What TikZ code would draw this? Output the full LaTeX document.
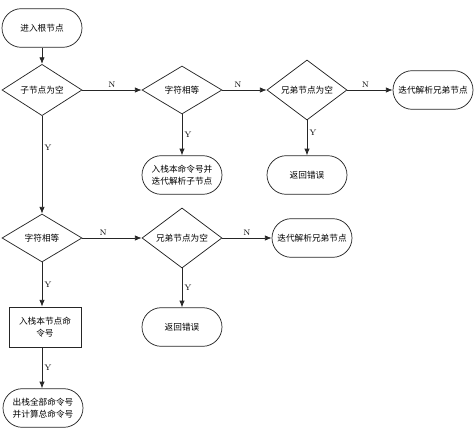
\documentclass[tikz,border=0pt]{standalone}
\usepackage{fontspec}
\newfontfamily\cjk{Noto Sans CJK SC}
\usepackage{tikz}
\usetikzlibrary{shapes.geometric, arrows.meta, positioning}

\begin{document}
\begin{tikzpicture}[x=0.75pt, y=-0.75pt, line width=0.55pt, draw=black!85]
            % Define block styles
            \tikzstyle{term} = [draw, rectangle, rounded corners=14.5pt, minimum height=29pt, minimum width=60pt, inner sep=1pt, align=center, font=\cjk\fontsize{6.5}{9}\selectfont]
            \tikzstyle{decide} = [draw, diamond, minimum width=60pt, minimum height=36pt, inner sep=0pt, font=\cjk\fontsize{6.5}{8}\selectfont]
            \tikzstyle{proc} = [draw, rectangle, minimum height=30pt, minimum width=54pt, inner sep=1pt, align=center, font=\cjk\fontsize{6.5}{9}\selectfont]
            \tikzstyle{flow} = [-{Latex[length=5pt, width=4pt]}]
            \tikzstyle{lbl} = [font=\fontsize{6}{7}\selectfont, inner sep=1.5pt]

            \useasboundingbox (0,0) rectangle (474,432);

            % Nodes
            \node[term] at (42,28) (start) {进入根节点};
            \node[decide] at (42,90) (empty1) {子节点为空};
            \node[decide] at (182,90) (eq1) {字符相等};
            \node[decide] at (307,90) (sib1) {兄弟节点为空};
            \node[term] at (433,90) (itersib1) {迭代解析兄弟节点};
            \node[term] at (182,175) (push1) {入栈本命令号并\\迭代解析子节点};
            \node[term] at (307,175) (err1) {返回错误};

            \node[decide] at (42,238) (eq2) {字符相等};
            \node[decide] at (182,238) (sib2) {兄弟节点为空};
            \node[term] at (312,238) (itersib2) {迭代解析兄弟节点};
            \node[term] at (182,327) (err2) {返回错误};
            \node[proc] at (45,327) (pushnode) {入栈本节点命\\令号};
            \node[term] at (43,408) (popall) {出栈全部命令号\\并计算总命令号};

            % Connectors
            \draw[flow] (start.south) -- (empty1.north);
            \draw[flow] (empty1.east) -- node[lbl, above] {N} (eq1.west);
            \draw[flow] (eq1.east) -- node[lbl, above, pos=0.35] {N} (sib1.west);
            \draw[flow] (sib1.east) -- node[lbl, above, pos=0.4] {N} (itersib1.west);
            \draw[flow] (eq1.south) -- node[lbl, right] {Y} (push1.north);
            \draw[flow] (sib1.south) -- node[lbl, right, pos=0.35] {Y} (err1.north);

            \draw[flow] (empty1.south) -- node[lbl, right, pos=0.33] {Y} (eq2.north);
            \draw[flow] (eq2.east) -- node[lbl, above, pos=0.35] {N} (sib2.west);
            \draw[flow] (sib2.east) -- node[lbl, above] {N} (itersib2.west);
            \draw[flow] (sib2.south) -- node[lbl, right] {Y} (err2.north);
            \draw[flow] (eq2.south) -- node[lbl, right] {Y} (eq2.south |- pushnode.north);
            \draw[flow] (eq2.south |- pushnode.south) -- node[lbl, right] {Y} (eq2.south |- popall.north);
\end{tikzpicture}
\end{document}
